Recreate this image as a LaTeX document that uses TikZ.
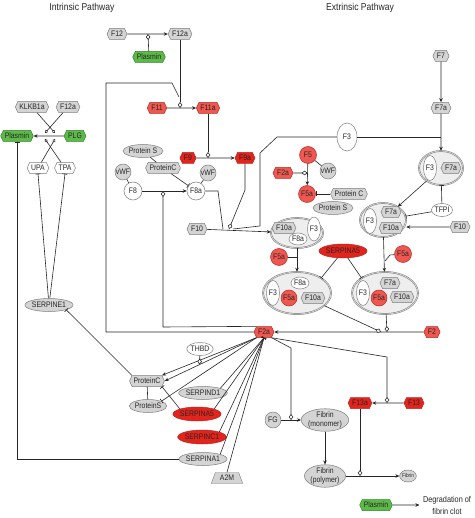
\documentclass[tikz,border=0pt]{standalone}
\usepackage{fontspec}
\setmainfont{Liberation Sans}[FakeStretch=0.86]
\usetikzlibrary{arrows.meta,calc,positioning,shapes.geometric,shapes.symbols}

\definecolor{gfill}{RGB}{212,212,212}
\definecolor{gline}{RGB}{125,125,125}
\definecolor{rlite}{RGB}{238,88,80}
\definecolor{rdark}{RGB}{226,36,28}
\definecolor{rline}{RGB}{185,40,35}
\definecolor{gnfill}{RGB}{92,186,72}
\definecolor{gnline}{RGB}{50,130,40}
\definecolor{cxfill}{RGB}{238,238,238}

\tikzset{
  lbl/.style={font=\fontsize{8}{8.5}\selectfont, text=black!85},
  hexa/.style={lbl, signal, signal to=east and west, signal pointer angle=130,
    minimum height=11pt, inner xsep=1.5pt, inner ysep=0.5pt, line width=0.5pt},
  hexgray/.style={hexa, draw=gline, fill=gfill},
  hexwhite/.style={hexa, draw=gline, fill=white},
  hexred/.style={hexa, draw=rline, fill=rlite},
  hexdark/.style={hexa, draw=rline, fill=rdark},
  hexgreen/.style={hexa, draw=gnline, fill=gnfill},
  ell/.style={lbl, ellipse, inner sep=0pt, line width=0.5pt},
  ellgray/.style={ell, draw=gline, fill=gfill, minimum height=13pt},
  ellwhite/.style={ell, draw=gline, fill=white, minimum height=13pt},
  elldark/.style={ell, draw=rline, fill=rdark, minimum height=14pt},
  tallF/.style={ellwhite, minimum width=13pt, minimum height=25pt},
  circ/.style={lbl, circle, inner sep=0pt, line width=0.5pt},
  circgray/.style={circ, draw=gline, fill=gfill, minimum size=16pt},
  circwhite/.style={circ, draw=gline, fill=white, minimum size=18pt},
  circred/.style={circ, draw=rline, fill=rlite, minimum size=17pt},
  cplx/.style={ellipse, draw=gline, line width=0.5pt, double=gray!30,
    double distance=0.7pt, fill=cxfill},
  trapgray/.style={lbl, trapezium, trapezium left angle=70, trapezium right angle=70,
    draw=gline, fill=gfill, inner sep=1pt, minimum height=11pt},
  title/.style={font=\fontsize{10}{10}\selectfont, text=black!85},
  lnk/.style={draw=black!85, line width=0.6pt},
  conv/.style={lnk, -{Stealth[length=4pt,width=3.5pt]}},
  cat/.style={lnk, -{Diamond[length=6pt,width=4.5pt,fill=white]}},
  catsm/.style={lnk, -{Diamond[length=4pt,width=3pt,fill=white]}},
  inh/.style={lnk, -{Bar[width=5pt]}},
}

\begin{document}
\begin{tikzpicture}[x=1pt,y=-1pt]
\useasboundingbox (0,0) rectangle (474,518);

% Titles
\node[title] (tin) at (82,8) {Intrinsic Pathway};
\node[title] (tex) at (360,8) {Extrinsic Pathway};

% Contact activation
\node[hexgray] (f12) at (117,34) {F12};
\node[hexgray] (f12a) at (180,34) {F12a};
\node[hexgreen] (plsA) at (149,57) {Plasmin};
\coordinate (x12) at (148,34);
\draw[conv] (f12) -- (f12a);
\draw[cat] (plsA) -- (x12);

\node[hexred] (f11) at (157,108) {F11};
\node[hexred] (f11a) at (208,108) {F11a};
\coordinate (x11) at (180,108);
\draw[conv] (f11) -- (f11a);
\draw[cat] (f12a) -- (x11);

\node[hexdark] (f9) at (188,158) {F9};
\node[hexdark] (f9a) at (245,158) {F9a};
\coordinate (x9) at (208,158);
\draw[conv] (f9) -- (f9a);
\draw[cat] (f11a) -- (x9);

% F8 and cofactors
\node[ellgray] (ps1) at (143,151) {Protein S};
\node[hexgray] (pc1) at (163,168) {ProteinC};
\node[circgray] (vwf1) at (123,172) {vWF};
\node[circwhite] (f8) at (133,191) {F8};
\node[circwhite] (f8a) at (196,191) {F8a};
\node[circgray] (vwf2) at (208,173) {vWF};
\coordinate (x8) at (163,191);
\draw[lnk] (ps1) -- (pc1);
\draw[lnk] (vwf1) -- (f8);
\draw[lnk] (vwf2) -- (f8a);
\draw[conv] (f8) -- (f8a);
\draw[inh] (pc1) -- (f8a);

% Plasminogen activation
\node[hexgray] (klk) at (32,107) {KLKB1a};
\node[hexgray] (f12b) at (68,107) {F12a};
\node[hexgreen] (plsB) at (17,136) {Plasmin};
\node[hexgreen] (plg) at (75,136) {PLG};
\node[hexwhite] (upa) at (38,168) {UPA};
\node[hexwhite] (tpa) at (65,168) {TPA};
\draw[conv] (plg) -- (plsB);
\draw[catsm] (klk) -- (55,133);
\draw[catsm] (f12b) -- (45,133);
\draw[catsm] (upa) -- (55,139);
\draw[catsm] (tpa) -- (45,139);
\node[ellgray] (serpE1) at (49,305) {SERPINE1};
\draw[inh] (serpE1) -- (upa.south);
\draw[inh] (serpE1) -- (tpa.south);

% Extrinsic: F7, tissue factor
\node[hexgray] (f7) at (441,56) {F7};
\node[hexgray] (f7a) at (441,108) {F7a};
\node[ellwhite, minimum width=20pt, minimum height=28pt] (f3a) at (347,137) {F3};
\draw[conv] (f7) -- (f7a);

\node[cplx, minimum width=44pt, minimum height=34pt] (cxA) at (441,168) {};
\node[tallF] (f3A) at (430,168) {F3};
\node[hexgray] (f7aA) at (451,168) {F7a};
\draw[conv] (f7a) -- (cxA);
\draw[lnk] (f3a) -- (441,137);

\node[ellwhite, minimum width=20pt] (tfpi) at (442,210) {TFPI};
\node[cplx, minimum width=46pt, minimum height=34pt] (cxB) at (383,220) {};
\node[tallF] (f3B) at (370,221) {F3};
\node[hexgray] (f7aB) at (391,212) {F7a};
\node[hexgray] (f10aB) at (391,228) {F10a};
\node[hexgray] (f10b) at (460,227) {F10};
\draw[conv] (cxA) -- (cxB);
\draw[inh] (tfpi) -- (cxA);
\draw[inh] (tfpi) -- (cxB);
\draw[conv] (f10b) -- (f10b -| cxB.east);

% F5 activation
\node[circred] (f5) at (308,155) {F5};
\node[circgray] (vwf3) at (328,171) {vWF};
\node[circred] (f5a) at (307,194) {F5a};
\node[hexred] (f2aB) at (283,173) {F2a};
\node[hexgray] (pc2) at (349,194) {Protein C};
\node[ellgray] (ps2) at (333,208) {Protein S};
\coordinate (x5) at (307.5,173);
\draw[lnk] (f5) -- (vwf3);
\draw[conv] (f5) -- (f5a);
\draw[cat] (f2aB) -- (x5);
\draw[inh] (pc2) -- (f5a);

% Tenase
\node[hexgray] (f10) at (197,229) {F10};
\node[cplx, minimum width=52pt, minimum height=30pt] (cxC) at (297,233) {};
\node[hexgray] (f10aC) at (284,228) {F10a};
\node[tallF, minimum height=24pt] (f3C) at (314,229) {F3};
\node[ellwhite, minimum width=18pt, minimum height=12pt] (f8aC) at (298,239) {F8a};
\coordinate (x10) at (229,229);
\draw[conv] (f10) -- (cxC);
\draw[cat] (f9a) -- (245,190) -- (x10);
\draw[lnk] (f8a) -- (218,191) -- (223,229);
\draw[lnk] (f3a) -- (277,137) -- (260,153) -- (260,226) -- (233,229);

% Prothrombinase
\node[elldark] (serpA5) at (343,251) {SERPINA5};
\node[circred] (f5aL) at (279,257) {F5a};
\node[circred] (f5aR) at (403,254) {F5a};

\node[cplx, minimum width=68pt, minimum height=42pt] (cxD) at (297,293) {};
\node[tallF] (f3D) at (273,293) {F3};
\node[ellwhite, minimum width=18pt, minimum height=12pt] (f8aD) at (300,283) {F8a};
\node[circred, minimum size=16pt] (f5aD) at (289,298) {F5a};
\node[hexgray] (f10aD) at (313,298) {F10a};

\node[cplx, minimum width=66pt, minimum height=42pt] (cxE) at (385,293) {};
\node[tallF] (f3E) at (363,293) {F3};
\node[hexgray] (f7aE) at (390,283) {F7a};
\node[circred, minimum size=16pt] (f5aE) at (379,298) {F5a};
\node[hexgray] (f10aE) at (402,297) {F10a};

\draw[conv] (cxC) -- (cxD);
\draw[conv] (cxB) -- (cxE);
\draw[lnk] (f5aL) -- (297,257);
\draw[lnk] (f5aR) -- (390,255) -- (385,261);
\draw[inh] (serpA5) -- (cxD.north east);
\draw[inh] (serpA5) -- (cxE.north west);

% Thrombin
\node[hexred] (f2a) at (264,332) {F2a};
\node[hexred] (f2) at (432,332) {F2};
\coordinate (x2d) at (381,332);
\coordinate (x2e) at (387,332);
\draw[conv] (f2) -- (f2a);
\draw[cat] (cxD) -- (x2d);
\draw[cat] (cxE) -- (x2e);

% Feedback from F2a
\draw[lnk] (f2a.west) -- (106,332) -- (106,83) -- (172,83) -- (179,97);
\draw[cat] (f2a.north west) -- (163,327) -- (x8);

% Protein C pathway and serpins
\node[ellwhite] (thbd) at (200,349) {THBD};
\node[hexgray] (pc3) at (147,381) {ProteinC};
\node[ellgray] (ps3) at (148,406) {ProteinS};
\node[ellgray] (serpD1) at (203,393) {SERPIND1};
\node[elldark] (serpA5b) at (197,414) {SERPINA5};
\node[elldark] (serpC1) at (202,437) {SERPINC1};
\node[ellgray] (serpA1) at (203,459) {SERPINA1};
\node[trapgray] (a2m) at (227,478) {A2M};

\draw[conv] (f2a.south west) -- (pc3.north east);
\draw[conv] (f2a.south west) -- (pc3.east) coordinate[pos=0.62] (xth);
\draw[cat] (thbd) -- (xth);
\draw[inh] (f2a.south west) -- (ps3.north east);
\draw[lnk] (pc3) -- (ps3);
\draw[inh] (serpA5b.north west) -- (pc3.south east);
\draw[inh] (pc3.north west) -- (serpE1.south east);
\foreach \s in {serpD1,serpA5b,serpC1,serpA1} {
  \draw[inh] (\s.north east) -- (f2a.south);
}
\draw[inh] (a2m.north) -- (f2a.south);
\draw[inh] (serpA1.west) -| (plsB.south);

% Fibrin formation
\node[circgray] (fg) at (273,420) {FG};
\node[ellgray, align=center] (fibm) at (325,420) {Fibrin\\(monomer)};
\node[ellgray, align=center] (fibp) at (325,476) {Fibrin\\(polymer)};
\node[ellgray, font=\fontsize{5.5}{6}\selectfont, minimum height=12pt] (fibr) at (408,476) {Fibrin};
\node[hexdark] (f13a) at (360,403) {F13a};
\node[hexdark] (f13) at (414,403) {F13};
\coordinate (xfg) at (291,420);
\coordinate (x13) at (387,403);
\coordinate (xfp) at (360,476);
\draw[conv] (fg) -- (fibm);
\draw[cat] (f2a.south east) -- (291,348) -- (xfg);
\draw[conv] (f13) -- (f13a);
\draw[cat] (f2a.south east) -- (387,357) -- (x13);
\draw[conv] (fibm) -- (fibp);
\draw[conv] (fibp) -- (fibr);
\draw[cat] (f13a) -- (xfp);

% Fibrinolysis
\node[hexgreen] (plsC) at (376,505) {Plasmin};
\node[lbl, font=\fontsize{8.5}{12}\selectfont, align=center] (deg) at (447,505) {Degradation of\\fibrin clot};
\draw[conv] (plsC) -- (deg);

\end{tikzpicture}
\end{document}
